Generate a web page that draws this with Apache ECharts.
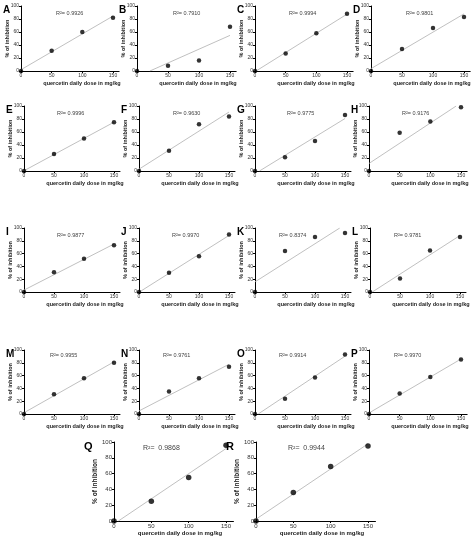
<!DOCTYPE html>
<html>
<head>
<meta charset="utf-8">
<script src="https://cdn.jsdelivr.net/npm/echarts@6/dist/echarts.min.js"></script>
<style>
  html, body { margin: 0; padding: 0; background: #fff; }
  #chart { width: 474px; height: 543px; }
</style>
</head>
<body>
<div id="chart"></div>
<script>
// data
const panelLetters = ['A','B','C','D','E','F','G','H','I','J','K','L','M','N','O','P','Q','R'];
const doses = [0, 50, 100, 150];
const inhibition = [
  [0, 31, 60, 82],  // A
  [0, 8, 16, 68],   // B
  [0, 27, 58, 88],  // C
  [0, 34, 66, 83],  // D
  [0, 26, 50, 75],  // E
  [0, 31, 72, 84],  // F
  [0, 21, 46, 86],  // G
  [0, 59, 76, 98],  // H
  [0, 31, 52, 73],  // I
  [0, 30, 56, 90],  // J
  [0, 64, 86, 92],  // K
  [0, 21, 65, 86],  // L
  [0, 31, 56, 80],  // M
  [0, 35, 56, 74],  // N
  [0, 24, 57, 93],  // O
  [0, 32, 58, 85],  // P
  [0, 25, 55, 96],  // Q
  [0, 36, 69, 95]   // R
];
const rSquared = ['0.9926','0.7910','0.9994','0.9801','0.9996','0.9630','0.9775','0.9176',
  '0.9877','0.9970','0.8374','0.9781','0.9955','0.9761','0.9914','0.9970','0.9868','0.9944'];
const xTicks = [0, 50, 100, 150];
const yTicks = [0, 20, 40, 60, 80, 100];

// layout: [x of 0, x of 150, y of 100, y of 0]
const boxes = [
  [21,113,6,71],[137,230,6,71],[255,347,6,71],[371,464,6,71],
  [24,114,106,171],[139,229,106,171],[255,345,106,171],[369,461,106,171],
  [24,114,228,292],[139,229,228,292],[255,345,228,292],[370,460,228,292],
  [24,114,350,414],[139,229,350,414],[255,345,350,414],[369,461,350,414],
  [114,226,442,521],[256,368,442,521]
];
const r2Offset = [35,36,34,35, 33,34,32,33, 33,33,24,24, 26,24,24,25, 29,32];

// least squares line, clipped to the plot area
function fitLine(ys) {
  const n = doses.length;
  const mx = doses.reduce((a, b) => a + b, 0) / n;
  const my = ys.reduce((a, b) => a + b, 0) / n;
  let sxy = 0, sxx = 0;
  doses.forEach((x, j) => { sxy += (x - mx) * (ys[j] - my); sxx += (x - mx) * (x - mx); });
  const m = sxy / sxx, b = my - m * mx;
  let x1 = 0, y1 = b, x2 = 150, y2 = b + m * 150;
  if (y1 < 0) { x1 = -b / m; y1 = 0; }
  if (y2 > 100) { x2 = (100 - b) / m; y2 = 100; }
  return [[x1, y1], [x2, y2]];
}

const font = 'Liberation Sans, Arial, sans-serif';
const grid = [], xAxis = [], yAxis = [], series = [], graphic = [];

panelLetters.forEach((letter, i) => {
  const [x0, x150, yTop, yBot] = boxes[i];
  const big = i >= 16;
  const w = (x150 - x0) * 160 / 150;
  grid.push({ left: x0, top: yTop, width: w, height: yBot - yTop });
  const axisCommon = {
    gridIndex: i,
    type: 'value',
    axisLine: { show: true, lineStyle: { color: '#000', width: 1 } },
    axisTick: { show: true, length: 2, lineStyle: { color: '#000', width: 1 } },
    axisLabel: { fontSize: big ? 6 : 5, color: '#333', margin: 2, fontFamily: font },
    splitLine: { show: false }
  };
  xAxis.push(Object.assign({}, axisCommon, {
    min: 0, max: 160,
    axisTick: Object.assign({}, axisCommon.axisTick, { customValues: xTicks }),
    axisLabel: Object.assign({}, axisCommon.axisLabel, { customValues: xTicks })
  }));
  yAxis.push(Object.assign({}, axisCommon, { min: 0, max: 100, interval: 20 }));

  series.push({
    type: 'line', xAxisIndex: i, yAxisIndex: i,
    data: fitLine(inhibition[i]),
    showSymbol: false, silent: true, z: 2,
    lineStyle: { color: '#b0b0b0', width: 0.8 }
  });
  series.push({
    type: 'scatter', xAxisIndex: i, yAxisIndex: i,
    data: doses.map((d, j) => [d, inhibition[i][j]]),
    symbolSize: big ? 5.5 : 4.5, clip: false, z: 3,
    itemStyle: { color: '#000' }
  });

  // panel letter
  graphic.push({
    type: 'text', left: x0 - (big ? 30 : 18), top: yTop - 1,
    style: { text: letter, font: 'bold ' + (big ? 11 : 10) + 'px ' + font, fill: '#000' }
  });
  // R squared
  graphic.push({
    type: 'text', x: x0 + r2Offset[i], y: yTop + (i >= 12 && i < 16 ? 5 : (big ? 6 : 7)),
    style: {
      text: 'R\u00b2=' + (big ? '  ' : ' ') + rSquared[i],
      font: (big ? 7 : 5.5) + 'px ' + font, fill: '#444',
      align: 'left', verticalAlign: 'middle'
    }
  });
  // x axis title
  graphic.push({
    type: 'text', x: x0 + (big ? 66 : 61), y: yBot + 12,
    style: {
      text: 'quercetin daily dose in mg/kg',
      font: 'bold ' + (big ? 6 : 5.5) + 'px ' + font, fill: '#222',
      align: 'center', verticalAlign: 'middle'
    }
  });
  // y axis title
  graphic.push({
    type: 'text', x: x0 - (big ? 19 : 14), y: (yTop + yBot) / 2,
    rotation: Math.PI / 2,
    style: {
      text: '% of inhibition',
      font: 'bold ' + (big ? 6.5 : 5.5) + 'px ' + font, fill: '#222',
      align: 'center', verticalAlign: 'middle'
    }
  });
});

const chart = echarts.init(document.getElementById('chart'));
chart.setOption({
  animation: false,
  backgroundColor: '#fff',
  grid, xAxis, yAxis, series, graphic
});
</script>
</body>
</html>
